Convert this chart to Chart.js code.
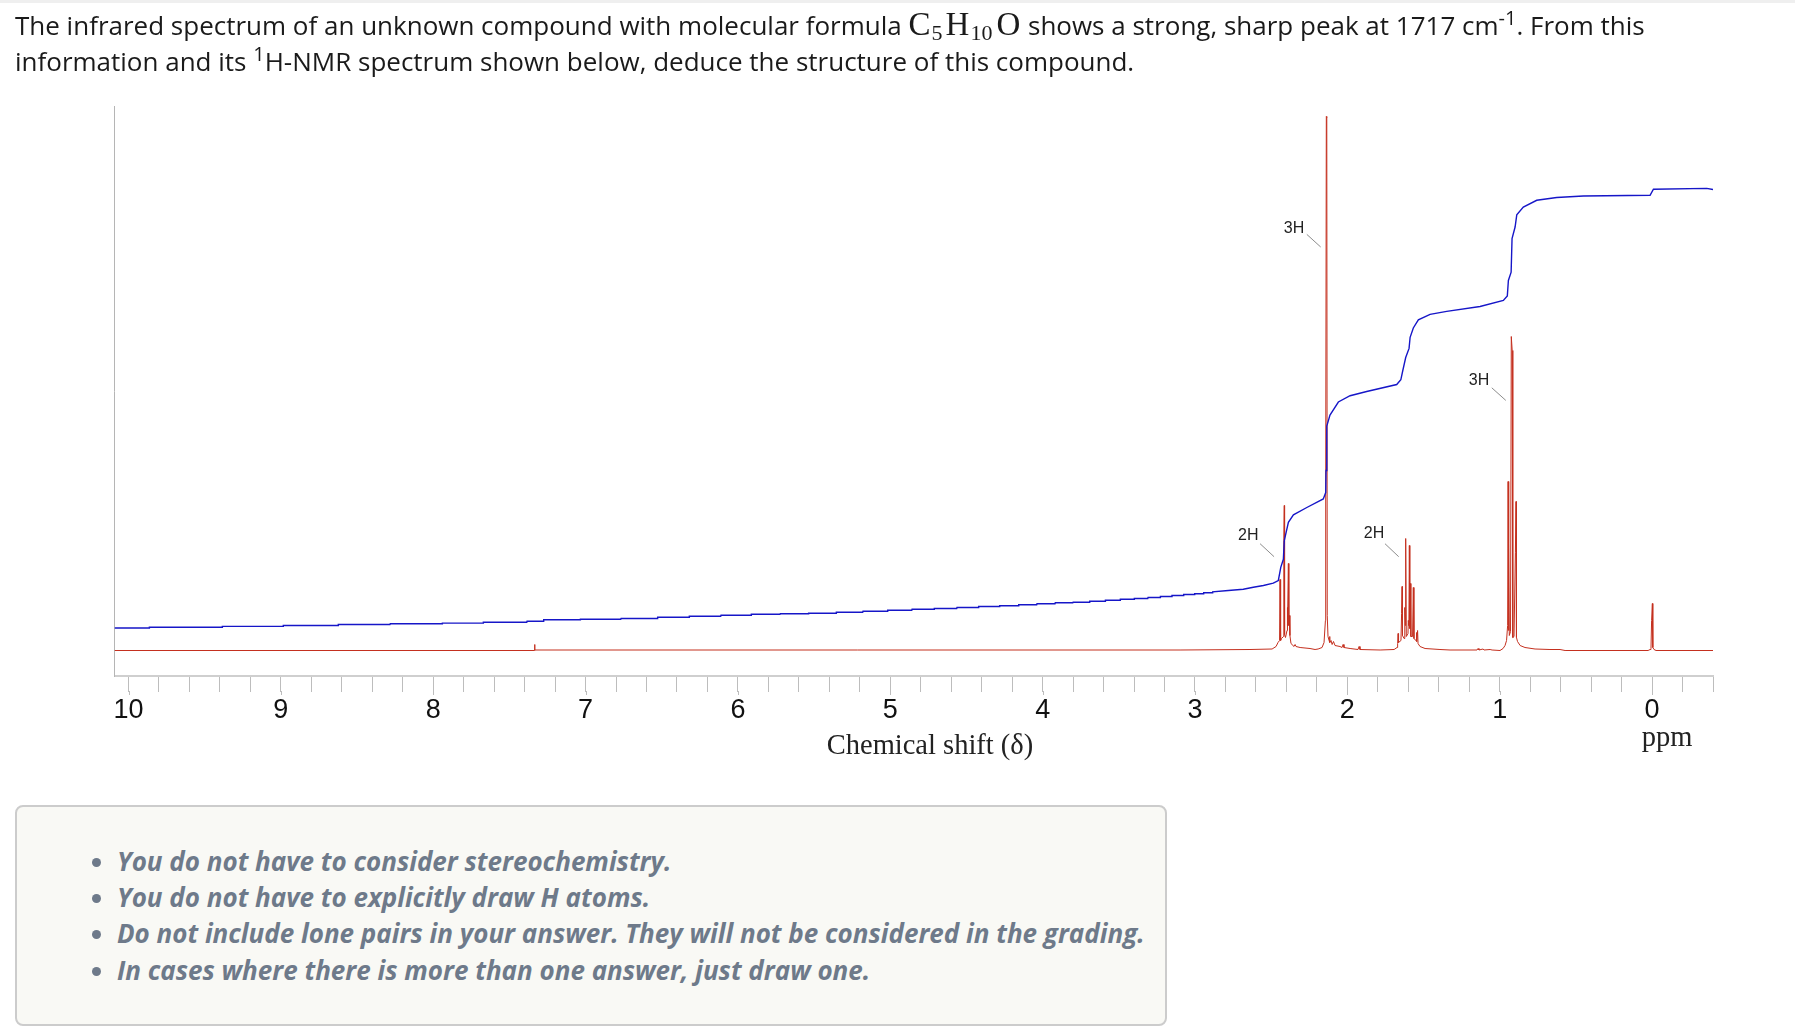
<!DOCTYPE html>
<html>
<head>
<meta charset="utf-8">
<title>NMR spectrum</title>
<script src="https://cdn.jsdelivr.net/npm/chart.js@4/dist/chart.umd.min.js"></script>
<style>
    html, body { margin: 0; padding: 0; background: #fff; }
    body { position: relative; width: 1795px; height: 1028px; overflow: hidden; font-family: "Open Sans", sans-serif; color: #1a1a1a; }
    #topband { position: absolute; left: 0; top: 0; width: 100%; height: 3px; background: #efefef; }
    #question { position: absolute; left: 15px; top: 6px; width: 1700px; font-size: 26px; line-height: 36px; }
    #question sup { font-size: 20px; line-height: 0; vertical-align: 10px; }
    .formula { font-family: "Liberation Serif", serif; font-size: 33px; margin-right: 1px; }
    .formula sub { font-size: 22px; line-height: 0; vertical-align: -5px; margin: 0 0 0 1px; }
    .formula .h { margin-left: 3px; }
    .formula .o { margin-left: 4px; }
    #chart { position: absolute; left: 0; top: 0; }
    .axis-text { position: absolute; font-family: "Liberation Serif", serif; font-size: 28.5px; color: #222; white-space: nowrap; transform: translate(-50%, -50%); }
    #notes { position: absolute; left: 15px; top: 805px; width: 1152px; height: 221px; box-sizing: border-box; background: #f9f9f5; border: 2px solid #ccc; border-radius: 8px; }
    #notes ul { margin: 0; padding: 0 0 0 100px; position: absolute; top: 36px; list-style: disc; font-size: 26px; line-height: 36.2px; font-weight: 700; font-style: italic; color: #6e7a8a; white-space: nowrap; }
</style>
</head>
<body>
<div id="topband"></div>
<canvas id="chart" width="1795" height="800"></canvas>
<div id="question">The infrared spectrum of an unknown compound with molecular formula <span class="formula">C<sub>5</sub><span class="h">H</span><sub>10</sub><span class="o">O</span></span> shows a strong, sharp peak at 1717 cm<sup>-1</sup>. From this<br>information and its <sup>1</sup>H-NMR spectrum shown below, deduce the structure of this compound.</div>
<div class="axis-text" style="left:930px;top:745px">Chemical shift (δ)</div>
<div class="axis-text" style="left:1667px;top:737px">ppm</div>
<div id="notes"><ul>
    <li>You do not have to consider stereochemistry.</li>
    <li>You do not have to explicitly draw H atoms.</li>
    <li>Do not include lone pairs in your answer. They will not be considered in the grading.</li>
    <li>In cases where there is more than one answer, just draw one.</li>
</ul></div>
<script>
const spectrumPpm = [10.092, 7.338, 7.335, 7.332, 3.098, 2.639, 2.494, 2.468, 2.455, 2.445, 2.442, 2.438, 2.432, 2.419, 2.417, 2.414, 2.412, 2.406, 2.396, 2.394, 2.392, 2.387, 2.384, 2.381, 2.377, 2.370, 2.350, 2.343, 2.337, 2.310, 2.245, 2.212, 2.192, 2.166, 2.153, 2.144, 2.142, 2.138, 2.135, 2.132, 2.127, 2.120, 2.117, 2.114, 2.107, 2.100, 2.091, 2.081, 2.048, 2.035, 2.028, 2.022, 1.982, 1.930, 1.923, 1.917, 1.785, 1.693, 1.674, 1.670, 1.667, 1.664, 1.648, 1.644, 1.641, 1.638, 1.628, 1.623, 1.619, 1.617, 1.613, 1.602, 1.600, 1.596, 1.593, 1.590, 1.587, 1.583, 1.572, 1.567, 1.563, 1.549, 1.546, 1.544, 1.539, 1.536, 1.523, 1.490, 1.392, 1.326, 1.149, 1.142, 1.136, 1.109, 1.103, 1.063, 1.050, 0.998, 0.978, 0.965, 0.955, 0.948, 0.945, 0.942, 0.940, 0.937, 0.929, 0.924, 0.918, 0.914, 0.906, 0.897, 0.893, 0.890, 0.883, 0.866, 0.834, 0.768, 0.670, 0.604, 0.571, 0.026, 0.013, 0.007, 0.003, -0.002, -0.005, -0.013, -0.026, -0.400]
const spectrumIntensity = [0, 0, 6, 0.5, 0.5, 1, 1.5, 4, 8, 10, 71, 10, 12, 14, 110, 145, 16, 13, 20, 43, 25, 87, 25, 35, 15, 7, 4, 6, 4, 3, 2, 1, 1.5, 3, 8, 30, 180, 534, 533, 35, 14, 10, 14, 8, 10, 6, 9, 5, 4, 3, 6, 3, 2, 1, 4, 1, 0.5, 1, 3, 7, 17, 8, 10, 37, 64, 15, 12, 43, 25, 112, 14, 17, 30, 25, 105, 22, 67, 14, 14, 63, 12, 10, 18, 9, 20, 7, 4, 2, 1, 0.5, 0.5, 2, 0.5, 1.5, 0.5, 1, 0.5, 0, 2, 5, 10, 25, 169, 20, 107, 15, 19, 314, 300, 13, 14, 98, 149, 13, 9, 5, 3, 1.5, 1, 1, 0, 0, 1, 2, 30, 47, 3, 1, 0, 0]

// the integral climbs in small stairs until the first multiplet
const integralPpm = [10.092, 9.865, 9.863, 9.386, 9.384, 8.986, 8.984, 8.625, 8.623, 8.284, 8.282, 7.942, 7.940, 7.673, 7.671,
    7.386, 7.384, 7.277, 7.275, 7.036, 7.034, 6.769, 6.767, 6.529, 6.527, 6.321, 6.319, 6.113, 6.111, 5.914, 5.912, 5.724, 5.722, 5.538, 5.536, 5.356, 5.354, 5.181, 5.179, 5.019, 5.017, 4.859, 4.857, 4.713, 4.711, 4.564, 4.562, 4.422, 4.420, 4.284, 4.282, 4.159, 4.157, 4.039, 4.037, 3.919, 3.917, 3.802, 3.800, 3.693, 3.691, 3.590, 3.588, 3.492, 3.490, 3.400, 3.398, 3.310, 3.308, 3.229, 3.227, 3.153, 3.151, 3.076, 3.074, 3.004, 3.002, 2.945, 2.943, 2.886, 2.884,
    2.781, 2.683, 2.617, 2.551, 2.486, 2.453, 2.437, 2.420, 2.414, 2.387, 2.354, 2.266, 2.158, 2.142, 2.140, 2.135, 2.114, 2.059, 1.982, 1.873, 1.676, 1.649, 1.636, 1.617, 1.595, 1.588, 1.567, 1.534, 1.457, 1.348, 1.129, 0.976, 0.950, 0.943, 0.925, 0.919, 0.899, 0.888, 0.845, 0.757, 0.626, 0.451, 0.013, -0.009, -0.359, -0.400]
const integralHeight = [22.5, 22.5, 23.3, 23.3, 24.1, 24.1, 25, 25, 26, 26, 26.7, 26.7, 27.4, 27.4, 28.3,
    28.3, 29.3, 29.3, 30.7, 30.7, 31.3, 31.3, 32, 32, 33.3, 33.3, 34.3, 34.3, 35.3, 35.3, 36.3, 36.3, 36.7, 36.7, 37.3, 37.3, 38.3, 38.3, 39.3, 39.3, 40.3, 40.3, 41.3, 41.3, 42, 42, 43, 43, 44, 44, 44.7, 44.7, 45.7, 45.7, 46.7, 46.7, 47.7, 47.7, 48.3, 48.3, 49.3, 49.3, 50.3, 50.3, 51.3, 51.3, 52, 52, 53, 53, 54, 54, 55, 55, 56, 56, 56.7, 56.7, 57.7, 57.7, 58.7,
    60, 61.3, 63.3, 65, 67.3, 70, 83.1, 91.2, 110, 128.2, 135.6, 143, 151.6, 158, 180, 224.4, 235.5, 248.5, 254.8, 259, 266, 270.7, 280, 293, 302.1, 313.2, 322.5, 330.6, 336.2, 339.1, 344, 350, 354.6, 370, 378.3, 412, 423.5, 435.7, 443.4, 450.2, 453, 454.5, 455.2, 461.3, 462.1, 461]

const peakLabels = ['3H', '2H', '2H', '3H']
const peakLabelPpm = [2.350, 2.650, 1.825, 1.136]
const peakLabelHeight = [422.4, 115, 117, 270]
const leaderPpm = [[2.266, 2.175], [2.573, 2.481], [1.753, 1.663], [1.052, 0.960]]
const leaderHeight = [[416.1, 403.5], [106.8, 93.8], [106.8, 93.8], [262.7, 250.1]]

const axisColor = '#bdbdbd'

function toPoints(xs, ys) {
    return xs.map((x, i) => ({x: x, y: ys[i]}))
}

function isWhole(value) {
    return Math.abs(value - Math.round(value)) < 1e-6
}

// 2H / 3H labels and the slightly longer ticks under whole ppm values
const annotations = {
    id: 'annotations',
    afterDraw(chart) {
        const {ctx, scales: {x, y}, chartArea} = chart
        ctx.save()
        ctx.strokeStyle = axisColor
        ctx.lineWidth = 1
        x.ticks.forEach(t => {
            if (!isWhole(t.value) || t.value < 0) return
            const px = Math.round(x.getPixelForValue(t.value)) + 0.5
            ctx.beginPath()
            ctx.moveTo(px, chartArea.bottom + 15)
            ctx.lineTo(px, chartArea.bottom + 19)
            ctx.stroke()
        })
        ctx.fillStyle = '#222'
        ctx.font = '16px "Liberation Sans"'
        ctx.textAlign = 'center'
        ctx.textBaseline = 'middle'
        peakLabels.forEach((label, i) => {
            ctx.fillText(label, x.getPixelForValue(peakLabelPpm[i]), y.getPixelForValue(peakLabelHeight[i]))
        })
        ctx.restore()
    }
}

function spectrumChart(element) {
    return new Chart(element, {
        type: 'scatter',
        plugins: [annotations],
        data: {
            datasets: [
                {
                    label: 'Integral',
                    data: toPoints(integralPpm, integralHeight),
                    borderColor: '#1616c8',
                    borderWidth: 1.4,
                },
                {
                    label: '1H-NMR',
                    data: toPoints(spectrumPpm, spectrumIntensity),
                    borderColor: '#c4301f',
                },
                ...leaderPpm.map((xs, i) => ({
                    label: 'leader ' + peakLabels[i],
                    data: toPoints(xs, leaderHeight[i]),
                    borderColor: '#8c8c8c',
                }))
            ]
        },
        options: {
            responsive: false,
            devicePixelRatio: 1,
            animation: false,
            showLine: true,
            layout: {padding: {left: 114.5, right: 82, top: 106, bottom: 64}},
            elements: {
                point: {radius: 0},
                line: {borderWidth: 1, tension: 0}
            },
            plugins: {
                legend: {display: false},
                tooltip: {enabled: false}
            },
            scales: {
                x: {
                    type: 'linear',
                    reverse: true,
                    min: -0.4,
                    max: 10.092,
                    afterFit: scale => { scale.height = 60 },
                    border: {color: '#cfcfcf', width: 2},
                    grid: {drawOnChartArea: false, tickLength: 16, color: axisColor},
                    ticks: {
                        stepSize: 0.2,
                        includeBounds: false,
                        autoSkip: false,
                        maxRotation: 0,
                        padding: 2,
                        color: '#111',
                        font: {family: '"Liberation Sans"', size: 27},
                        callback: value => (isWhole(value) && value >= 0) ? String(Math.round(value)) : ''
                    }
                },
                y: {
                    min: -25.5,
                    max: 544.5,
                    afterFit: scale => { scale.width = 0 },
                    border: {color: '#b5b5b5', width: 1},
                    grid: {display: false},
                    ticks: {display: false}
                }
            }
        }
    })
}

spectrumChart(document.getElementById('chart'))
</script>
</body>
</html>
